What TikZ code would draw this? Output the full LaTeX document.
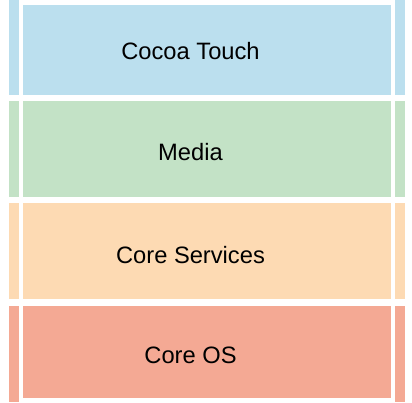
\documentclass[tikz,border=0pt]{standalone}
\usepackage{fontspec}
\setmainfont{Liberation Sans}
\definecolor{cblue}{RGB}{187,223,238}
\definecolor{cgreen}{RGB}{195,226,198}
\definecolor{corange}{RGB}{253,218,179}
\definecolor{cred}{RGB}{244,169,148}
\tikzset{
  layertext/.style={anchor=base, inner sep=0pt, font=\fontsize{23.7}{28}\selectfont, text=black},
}
\begin{document}
\begin{tikzpicture}[x=1pt,y=1pt]
\useasboundingbox (0,0) rectangle (412,-403);
% Cocoa Touch
\fill[cblue] (9,0) rectangle (19,-95);
\fill[cblue] (395,0) rectangle (405,-95);
\fill[cblue] (23,-5) rectangle (391,-95);
% Media
\fill[cgreen] (9,-101) rectangle (19,-197);
\fill[cgreen] (395,-101) rectangle (405,-197);
\fill[cgreen] (23,-101) rectangle (391,-197);
% Core Services
\fill[corange] (9,-203) rectangle (19,-299);
\fill[corange] (395,-203) rectangle (405,-299);
\fill[corange] (23,-203) rectangle (391,-299);
% Core OS
\fill[cred] (9,-306) rectangle (19,-402);
\fill[cred] (395,-306) rectangle (405,-402);
\fill[cred] (23,-306) rectangle (391,-398);
\node[layertext] (cocoa) at (190.5,-60) {Cocoa Touch};
\node[layertext] (media) at (190.5,-161) {Media};
\node[layertext] (services) at (190.5,-263) {Core Services};
\node[layertext] (coreos) at (190.5,-363) {Core OS};
\end{tikzpicture}
\end{document}
